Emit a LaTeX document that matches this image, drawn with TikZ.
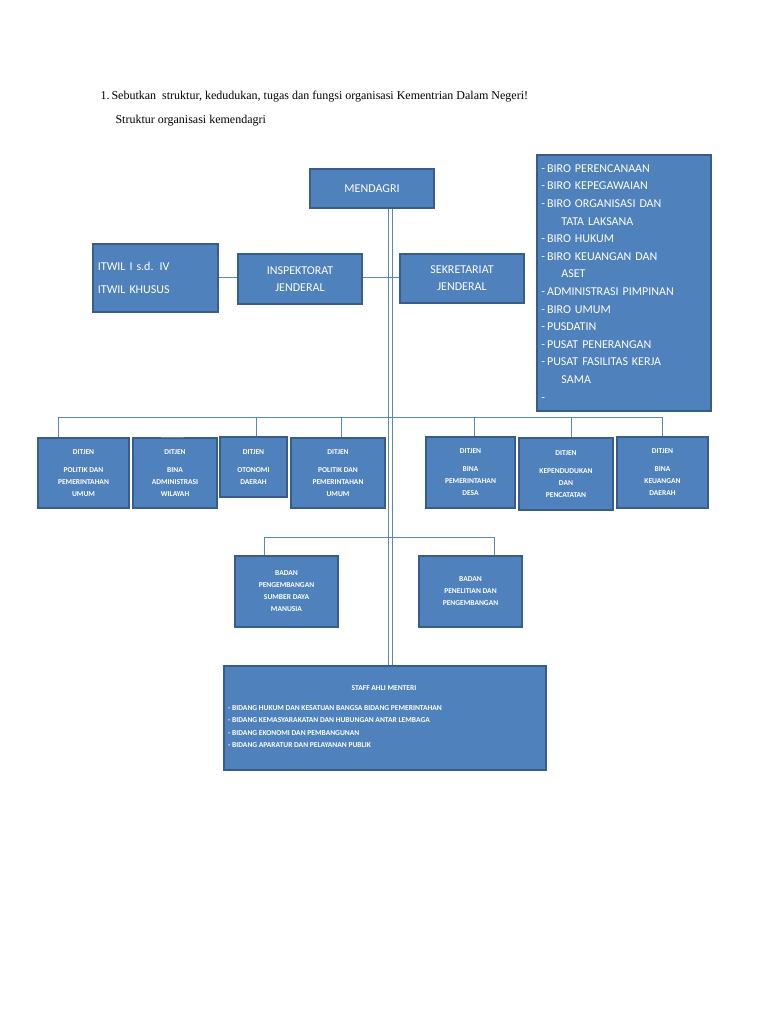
\documentclass[tikz,border=0pt]{standalone}
\usepackage{fontspec}
\setmainfont{Liberation Serif}
\newfontfamily\cbfont{Carlito}
\begin{document}
\begin{tikzpicture}[x=1pt,y=-1pt,
  box/.style={draw=boxb,line width=1.8pt,fill=boxf,text=white,inner sep=1pt,align=center,font=\cbfont},
  ln/.style={draw=lnc,line width=0.9pt}]
\definecolor{boxf}{HTML}{4F81BD}
\definecolor{boxb}{HTML}{385D8A}
\definecolor{lnc}{HTML}{5B86C0}
\useasboundingbox (0,0) rectangle (768,1024);
\node[anchor=west,font=\fontsize{12}{14}\selectfont] (t1) at (97,97) {1.\,Sebutkan\ \ struktur, kedudukan, tugas dan fungsi organisasi Kementrian Dalam Negeri!};
\node[anchor=west,font=\fontsize{12}{14}\selectfont] (t2) at (112,121) {Struktur organisasi kemendagri};
% boxes
\node[box,minimum width=124,minimum height=39,font=\cbfont\fontsize{12}{14}\selectfont] (men) at (372,188.5) {MENDAGRI};
\node[box,minimum width=124,minimum height=68,anchor=north west,align=left,font=\cbfont\fontsize{12}{23}\selectfont,text width=115,inner sep=5pt] (itw) at (92,243) {ITWIL I s.d. IV\\ITWIL KHUSUS};
\node[box,minimum width=124,minimum height=50,font=\cbfont\fontsize{12}{17}\selectfont] (ins) at (300,279) {INSPEKTORAT\\JENDERAL};
\node[box,minimum width=124,minimum height=49,font=\cbfont\fontsize{12}{17}\selectfont] (sek) at (462,278.5) {SEKRETARIAT\\JENDERAL};
\node[box,minimum width=174,minimum height=256,anchor=north west,align=left,text width=165,inner sep=4pt,font=\cbfont\fontsize{12}{17.6}\selectfont] (biro) at (536,154) {
-\,BIRO PERENCANAAN\\
-\,BIRO KEPEGAWAIAN\\
-\,BIRO ORGANISASI DAN\\
\hspace*{20pt}TATA LAKSANA\\
-\,BIRO HUKUM\\
-\,BIRO KEUANGAN DAN\\
\hspace*{20pt}ASET\\
-\,ADMINISTRASI PIMPINAN\\
-\,BIRO UMUM\\
-\,PUSDATIN\\
-\,PUSAT PENERANGAN\\
-\,PUSAT FASILITAS KERJA\\
\hspace*{20pt}SAMA\\
-};
\tikzset{dj/.style={box,font=\cbfont\bfseries\fontsize{7.5}{12}\selectfont}}
\node[dj,minimum width=91,minimum height=70] (d1) at (83.5,473) {DITJEN\\[6pt]POLITIK DAN\\PEMERINTAHAN\\UMUM};
\node[dj,minimum width=84,minimum height=70] (d2) at (175,473) {DITJEN\\[6pt]BINA\\ADMINISTRASI\\WILAYAH};
\node[dj,minimum width=67,minimum height=60] (d3) at (253.5,467) {DITJEN\\[6pt]OTONOMI\\DAERAH};
\node[dj,minimum width=94,minimum height=70] (d4) at (338,473) {DITJEN\\[6pt]POLITIK DAN\\PEMERINTAHAN\\UMUM};
\node[dj,minimum width=89,minimum height=71] (d5) at (470.5,472.5) {DITJEN\\[6pt]BINA\\PEMERINTAHAN\\DESA};
\node[dj,minimum width=94,minimum height=72] (d6) at (566,474) {DITJEN\\[6pt]KEPENDUDUKAN\\DAN\\PENCATATAN};
\node[dj,minimum width=91,minimum height=71] (d7) at (662.5,472.5) {DITJEN\\[6pt]BINA\\KEUANGAN\\DAERAH};
\node[dj,minimum width=103,minimum height=71] (b1) at (286.5,591.5) {BADAN\\PENGEMBANGAN\\SUMBER DAYA\\MANUSIA};
\node[dj,minimum width=103,minimum height=71] (b2) at (470.5,591.5) {BADAN\\PENELITIAN DAN\\PENGEMBANGAN};
\node[box,minimum width=322,minimum height=104,anchor=north west] (sa) at (223,665) {};
\node[font=\cbfont\bfseries\fontsize{7.5}{12}\selectfont,text=white] (sat) at (384,688) {STAFF AHLI MENTERI};
\node[anchor=north west,align=left,text=white,inner sep=0pt,font=\cbfont\bfseries\fontsize{7.5}{12.5}\selectfont] (sal) at (228,705) {- BIDANG HUKUM DAN KESATUAN BANGSA BIDANG PEMERINTAHAN\\- BIDANG KEMASYARAKATAN DAN HUBUNGAN ANTAR LEMBAGA\\- BIDANG EKONOMI DAN PEMBANGUNAN\\- BIDANG APARATUR DAN PELAYANAN PUBLIK};
% connectors
\coordinate (h1) at (58,417); \coordinate (h2) at (662,417);
\coordinate (g1) at (264,537); \coordinate (g2) at (494,537);
\coordinate (dash1) at (161,437); \coordinate (dash2) at (184,437);
\draw[ln] (itw.east |- 0,277) -- (ins.west |- 0,277);
\draw[ln] (ins.east |- 0,277) -- (sek.west |- 0,277);
\draw[ln] (h1) -- (h2);
\draw[ln] (h1) -- (d1.north -| h1);
\draw[ln] (256,417) -- (d3.north -| 256,0);
\draw[ln] (341,417) -- (d4.north -| 341,0);
\draw[ln] (474,417) -- (d5.north -| 474,0);
\draw[ln] (571,417) -- (d6.north -| 571,0);
\draw[ln] (h2) -- (d7.north -| h2);
\draw[ln] (dash1) -- (dash2);
\draw[ln] (g1) -- (g2);
\draw[ln] (g1) -- (b1.north -| g1);
\draw[ln] (g2) -- (b2.north -| g2);
\draw[ln] (men.south -| 388,0) -- (sa.north -| 388,0);
\draw[ln] (men.south -| 392,0) -- (sa.north -| 392,0);
\end{tikzpicture}
\end{document}
